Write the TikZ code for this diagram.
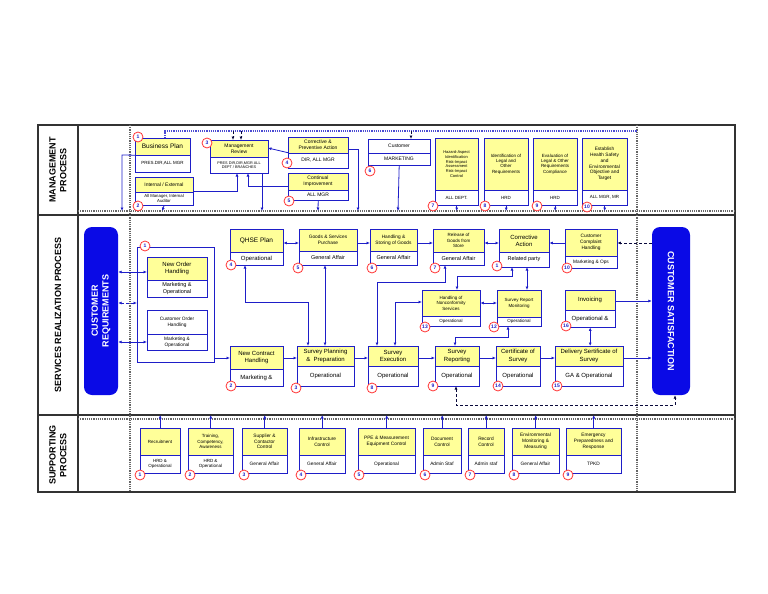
\documentclass[tikz,border=0pt]{standalone}
\usepackage{fontspec}
\setmainfont{Liberation Sans}
\usetikzlibrary{calc,arrows.meta}
\definecolor{pblue}{RGB}{30,30,200}
\definecolor{pyellow}{RGB}{255,255,153}
\definecolor{bigblue}{RGB}{10,10,230}
\newcommand\ft[1]{\fontsize{#1}{\dimexpr #1pt*6/5\relax}\selectfont}
\tikzset{
  boxline/.style={draw=pblue,line width=1pt},
  conn/.style={draw=pblue,line width=0.8pt,-{Latex[length=3.5pt,width=3pt]}},
  bconn/.style={conn,{Latex[length=3.5pt,width=3pt]}-{Latex[length=3.5pt,width=3pt]}},
  dconn/.style={conn,densely dashed,draw=black!70!pblue},
  sep/.style={draw=black!60,densely dotted,line width=1.2pt},
  badge/.style={circle,draw=red!80,fill=white,thick,minimum size=10pt,inner sep=0pt,font=\ft{5}\bfseries,text=pblue},
  boxtext/.style={align=center,inner sep=0pt},
  sectlabel/.style={rotate=90,font=\ft{9}\bfseries,align=center},
  bigbox/.style={fill=bigblue,rounded corners=8pt,text=white,font=\ft{9}\bfseries,align=center}
}
% text node with size given as "size:text"
\def\ftnode#1#2:#3\relax{\node[boxtext,font=\ft{#2}] at #1 {#3};}
% name, x1, y1, x2, ysplit, y2, size:title, size:sub, fill
\newcommand\pbox[9]{%
  \fill[#9] (#2,#3) rectangle (#4,#5);
  \draw[boxline] (#2,#3) rectangle (#4,#6) (#2,#5) -- (#4,#5);
  \pgfmathsetmacro\bw{#4-#2}\pgfmathsetmacro\bh{#6-#3}
  \node[minimum width=\bw pt,minimum height=\bh pt,inner sep=0pt,anchor=north west] (#1) at (#2,#3) {};
  \ftnode{($(#2,#3)!.5!(#4,#5)$)}#7\relax
  \ftnode{($(#2,#5)!.5!(#4,#6)$)}#8\relax
}
\begin{document}
\begin{tikzpicture}[x=1pt,y=-1pt]
\useasboundingbox (0,0) rectangle (768,594);

% frame and sections
\draw[black!80,line width=1.4pt] (38,125) rectangle (735,492);
\draw[black!80,line width=1.2pt] (78,125) -- (78,492) (38,215) -- (735,215) (38,415) -- (735,415);
\draw[sep] (130,125) -- (130,492) (637,125) -- (637,492) (78,419) -- (735,419) (78,211) -- (735,211);
\node[sectlabel] at (58,170) {MANAGEMENT\\PROCESS};
\node[sectlabel] at (58,315) {SERVICES REALIZATION PROCESS};
\node[sectlabel] at (58,455) {SUPPORTING\\PROCESS};
\node[bigbox,minimum width=34pt,minimum height=168pt] (creq) at (101,311) {};
\node[rotate=90,text=white,font=\ft{9}\bfseries,align=center] at (101,311) {CUSTOMER\\REQUIREMENTS};
\node[bigbox,minimum width=38pt,minimum height=168pt] (csat) at (671,311) {};
\node[rotate=-90,text=white,font=\ft{9}\bfseries] at (671,311) {CUSTOMER SATISFACTION};

% management process
\pbox{bplan}{135}{138}{190}{155}{172}{6.5:Business Plan}{4.5:PRES.DIR,ALL MGR}{pyellow}
\pbox{intext}{135}{177}{193}{192}{205}{5:Internal / External}{4.3:All Manager, Internal\\Auditor}{pyellow}
\pbox{mreview}{210}{140}{268}{157}{173}{5:Management\\Review}{3.8:PRES DIR,DIR,MGR ALL\\DEPT / BRANCHES}{pyellow}
\pbox{cpa}{288}{137}{348}{153}{168}{5:Corrective \&\\Preventive Action}{5:DIR, ALL MGR}{pyellow}
\pbox{cimp}{288}{173}{348}{190}{200}{5:Continual\\Improvement}{5:ALL MGR}{pyellow}
\pbox{cust}{368}{139}{430}{153}{165}{5:Customer}{5:MARKETING}{white}
\pbox{hazard}{435}{138}{478}{190}{205}{4:Hazard-Aspect\\Identification\\Risk-Impact\\Assessment\\Risk-Impact\\Control}{4.5:ALL DEPT.}{pyellow}
\pbox{legal}{484}{138}{528}{190}{205}{4.5:Identification of\\Legal and\\Other\\Requirements}{4.5:HRD}{pyellow}
\pbox{evalc}{533}{138}{577}{190}{205}{4.5:Evaluation of\\Legal \& Other\\Requirements\\Compliance}{4.5:HRD}{pyellow}
\pbox{ohsobj}{582}{138}{627}{190}{205}{4.8:Establish\\Health Safety\\and\\Environmental\\Objective and\\Target}{4.5:ALL MGR, MR}{pyellow}
\foreach \x/\y/\n in {138/137/1,138/206/2,207/143/3,287/163/4,289/201/5,370/171/6,433/206/7,485/206/8,537/206/9,587/207/10}
  \node[badge] at (\x,\y) {\n};

\draw[sep,draw=pblue!80] (165,138) -- (165,131) -- (637,131);
\draw[dconn] (233,131) -- (233,140);
\draw[dconn] (241,131) -- (241,140);
\draw[dconn] (411,131) -- (411,139);
\draw[conn] (bplan.west) -- (122,155) -- (122,211);
\draw[conn] (intext.east) -| (237,173);
\draw[conn] (cpa.west) -- (268,148);
\draw[conn] (cimp.west) -| (248,173);
\draw[conn] (262,173) -- (262,211);
\draw[conn] (348,149) -| (358,211);
\draw[conn] (cimp.south) -- (318,211);
\draw[conn] (intext.south) -- (162,211);
\draw[conn] (cust.south) -- (398,211);
\foreach \b in {hazard,legal,evalc,ohsobj}
  \draw[conn] (\b.south) -- (\b.south |- 0,211);

% services realization process
\draw[boxline] (137,247) rectangle (214,362);
\pbox{neworder}{147}{257}{207}{280}{297}{6:New Order\\Handling}{5.5:Marketing \&\\Operational}{pyellow}
\pbox{custorder}{147}{310}{207}{334}{350}{4.8:Customer Order\\Handling}{4.8:Marketing \&\\Operational}{white}
\pbox{qhse}{230}{229}{283}{252}{265}{6.5:QHSE Plan}{6:Operational}{pyellow}
\pbox{goods}{299}{229}{357}{251}{265}{4.8:Goods \& Services\\Purchase}{5.5:General Affair}{pyellow}
\pbox{storing}{370}{229}{417}{251}{265}{4.8:Handling \&\\Storing of Goods}{5.5:General Affair}{pyellow}
\pbox{release}{433}{229}{484}{252}{265}{4.5:Release of\\Goods from\\Store}{5.5:General Affair}{pyellow}
\pbox{corract}{499}{229}{549}{252}{267}{6:Corrective\\Action}{5.5:Related party}{pyellow}
\pbox{complaint}{565}{229}{617}{256}{268}{4.8:Customer\\Complaint\\Handling}{4.8:Marketing \& Ops}{pyellow}
\pbox{noncon}{422}{290}{480}{316}{326}{4.5:Handling of\\Nonconformity\\Services}{4.5:Operational}{pyellow}
\pbox{srmon}{497}{290}{541}{317}{326}{4.5:Survey Report\\Monitoring}{4.5:Operational}{pyellow}
\pbox{invoice}{565}{290}{615}{310}{327}{6:Invoicing}{6:Operational \&}{pyellow}
\pbox{contract}{230}{346}{283}{369}{386}{6:New Contract\\Handling}{6:Marketing \&}{pyellow}
\pbox{planning}{297}{346}{354}{366}{386}{6:Survey Planning\\\& ~Preparation}{6:Operational}{pyellow}
\pbox{execution}{368}{346}{418}{366}{386}{6:Survey\\Execution}{6:Operational}{pyellow}
\pbox{reporting}{435}{346}{479}{366}{386}{6:Survey\\Reporting}{6:Operational}{pyellow}
\pbox{certif}{496}{346}{540}{366}{386}{6:Certificate of\\Survey}{6:Operational}{pyellow}
\pbox{delivery}{555}{346}{623}{366}{386}{6:Delivery Sertificate of\\Survey}{6:GA \& Operational}{pyellow}
\foreach \x/\y/\n in {145/246/1,231/265/4,298/268/5,372/268/6,435/268/7,497/266/1,567/268/10,425/327/13,494/327/12,566/326/16,231/386/2,296/388/3,372/388/8,433/386/9,498/386/14,557/386/15}
  \node[badge] at (\x,\y) {\n};

\draw[bconn] (creq.east |- 0,272) -- (neworder.west |- 0,272);
\draw[bconn,densely dashed] (creq.east |- 0,303) -- (137,303);
\draw[bconn] (creq.east |- 0,342) -- (custorder.west |- 0,342);
\draw[conn] (214,358) -- (contract.west |- 0,358);
\draw[conn] (contract.east |- 0,358) -- (planning.west |- 0,358);
\draw[conn] (planning.east |- 0,358) -- (execution.west |- 0,358);
\draw[conn] (execution.east |- 0,358) -- (reporting.west |- 0,358);
\draw[conn] (reporting.east |- 0,358) -- (certif.west |- 0,358);
\draw[conn] (certif.east |- 0,358) -- (delivery.west |- 0,358);
\draw[bconn] (qhse.east |- 0,243) -- (goods.west |- 0,243);
\draw[conn] (goods.east |- 0,243) -- (storing.west |- 0,243);
\draw[conn] (storing.east |- 0,243) -- (release.west |- 0,243);
\draw[bconn] (release.east |- 0,243) -- (corract.west |- 0,243);
\draw[conn] (complaint.west |- 0,243) -- (corract.east |- 0,243);
\draw[dconn] (csat.west |- 0,243) -- (complaint.east |- 0,243);
\draw[bconn] (245,265) -- (245,302) -- (308,302) -- (308,346);
\draw[bconn] (325,265) -- (325,346);
\draw[bconn] (377,346) -- (377,282) -- (445,282) -- (445,265);
\draw[bconn] (395,346) -- (395,302) -- (noncon.west |- 0,302);
\draw[bconn] (noncon.east |- 0,303) -- (srmon.west |- 0,303);
\draw[bconn] (512,267) -- (512,276) -- (457,276) -- (457,290);
\draw[bconn] (527,267) -- (527,290);
\draw[bconn] (508,326) -- (508,337) -- (455,337) -- (455,346);
\draw[bconn] (invoice.south) -- (delivery.north -| invoice.south);
\draw[conn] (invoice.east |- 0,301) -- (csat.west |- 0,301);
\draw[conn] (delivery.east |- 0,358) -- (csat.west |- 0,358);
\draw[dconn,{Latex[length=3.5pt,width=3pt]}-{Latex[length=3.5pt,width=3pt]}] (456,386) -- (456,405) -- (675,405) -- (csat.south -| 675,0);

% supporting process
\pbox{recruit}{140}{428}{180}{455}{473}{4.5:Recruitment}{4.5:HRD \&\\Operational}{pyellow}
\pbox{training}{188}{428}{233}{455}{473}{4.5:Training,\\Competency,\\Awareness}{4.5:HRD \&\\Operational}{pyellow}
\pbox{supplier}{242}{428}{287}{455}{473}{4.8:Supplier \&\\Contactor\\Control}{4.8:General Affair}{pyellow}
\pbox{infra}{299}{428}{345}{455}{473}{4.8:Infrastructure\\Control}{4.8:General Affair}{pyellow}
\pbox{ppe}{358}{428}{415}{455}{473}{4.8:PPE \& Measurement\\Equipment Control}{4.8:Operational}{pyellow}
\pbox{doc}{423}{428}{461}{455}{473}{4.8:Document\\Control}{4.8:Admin Staf}{pyellow}
\pbox{record}{468}{428}{504}{455}{473}{4.8:Record\\Control}{4.8:Admin staf}{pyellow}
\pbox{envmon}{512}{428}{559}{455}{473}{4.8:Environmental\\Monitoring \&\\Measuring}{4.8:General Affair}{pyellow}
\pbox{emerg}{566}{428}{621}{455}{473}{4.8:Emergency\\Preparedness and\\Response}{4.8:TPKD}{pyellow}
\foreach \x/\y/\n in {140/475/1,190/475/2,244/475/3,301/475/4,359/475/5,425/475/6,470/475/7,514/475/8,568/475/9}
  \node[badge] at (\x,\y) {\n};
\foreach \b in {recruit,training,supplier,infra,ppe,doc,record,envmon,emerg}
  \draw[conn] (\b.north) -- (\b.north |- 0,415);
\end{tikzpicture}
\end{document}
